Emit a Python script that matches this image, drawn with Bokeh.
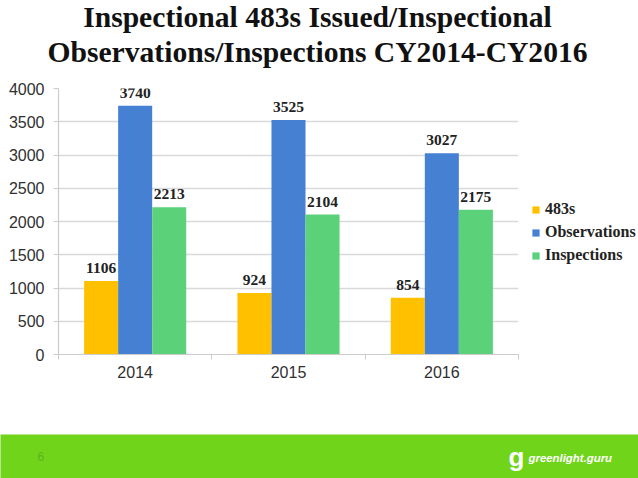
from bokeh.plotting import figure
from bokeh.embed import file_html
from bokeh.layouts import column
from bokeh.resources import INLINE
from bokeh.models import (ColumnDataSource, FixedTicker, Label, LabelSet,
                          Legend, LegendItem, Range1d)
import numpy as np

# data
years = ["2014", "2015", "2016"]
inspectional_483s = [1106, 924, 854]
observations = [3740, 3525, 3027]
inspections = [2213, 2104, 2175]
series_names = ["483s", "Observations", "Inspections"]
series_colors = ["#FFC000", "#4680D2", "#5BD27A"]
y_ticks = [0, 500, 1000, 1500, 2000, 2500, 3000, 3500, 4000]
title_lines = ["Inspectional 483s Issued/Inspectional",
               "Observations/Inspections CY2014-CY2016"]
page_number = "6"
brand = "greenlight.guru"

SERIF = "Liberation Serif"
SANS = "Liberation Sans"


# blank strip for the slide title and the footer, its whole area is the frame
def strip(height, fill):
    s = figure(width=638, height=height, output_backend="svg", toolbar_location=None,
               x_range=Range1d(0, 638), y_range=Range1d(0, height), x_axis_location=None,
               y_axis_location=None, min_border=0, frame_align=False)
    s.grid.visible = False
    s.outline_line_color = None
    s.background_fill_color = fill
    s.border_fill_color = fill
    return s


def add_text(s, text, x, y, font, size, color="#111111", style="normal", align="left"):
    s.add_layout(Label(x=x, y=s.height - y, x_units="screen", y_units="screen", text=text,
                       text_font=font, text_font_size=size, text_color=color,
                       text_font_style=style, text_align=align, text_baseline="middle"))


# title strip: 0..70 in window pixels
top = strip(70, "white")
add_text(top, title_lines[0], 317, 16, SERIF, "29.6px", style="bold", align="center")
add_text(top, title_lines[1], 317, 51, SERIF, "29.6px", style="bold", align="center")

# chart: 70..434, plot frame 58..518 / 88..354 in window pixels
p = figure(width=638, height=364, output_backend="svg", toolbar_location=None,
           frame_width=460, frame_height=266, frame_align=False,
           x_range=Range1d(0, 3), y_range=Range1d(0, 4000),
           min_border_left=58, min_border_right=120, min_border_top=18, min_border_bottom=80)
p.outline_line_color = None
p.background_fill_color = "white"
p.border_fill_color = "white"

centers = np.arange(len(years)) + 0.5
bar_w = 0.222
values = [inspectional_483s, observations, inspections]

items = []
for i, name in enumerate(series_names):
    src = ColumnDataSource(data=dict(x=centers + (i - 1) * bar_w, top=values[i],
                                     text=[str(v) for v in values[i]]))
    bars = p.vbar(x="x", top="top", width=bar_w, bottom=0, source=src,
                  color=series_colors[i], line_color=None)
    items.append(LegendItem(label=name, renderers=[bars]))
    p.add_layout(LabelSet(x="x", y="top", text="text", source=src, y_offset=8,
                          text_align="center", text_baseline="bottom",
                          text_font=SERIF, text_font_style="bold",
                          text_font_size="15.5px", text_color="#222222"))

# axes
p.xaxis.ticker = FixedTicker(ticks=list(centers), minor_ticks=list(range(len(years) + 1)))
p.xaxis.major_label_overrides = {float(c): y for c, y in zip(centers, years)}
p.xaxis.major_tick_line_color = None
p.xaxis.minor_tick_out = 5
p.xaxis.minor_tick_in = 0
p.xaxis.minor_tick_line_color = "#cccccc"
p.xaxis.major_label_standoff = 5
p.yaxis.ticker = FixedTicker(ticks=y_ticks)
p.yaxis.major_tick_out = 5
p.yaxis.major_tick_in = 0
p.yaxis.minor_tick_line_color = None
p.yaxis.major_tick_line_color = "#cccccc"
p.yaxis.major_label_standoff = 9
for ax in (p.xaxis, p.yaxis):
    ax.axis_line_color = "#cccccc"
    ax.axis_line_width = 1.2
    ax.major_label_text_font = SANS
    ax.major_label_text_font_size = "16px"
    ax.major_label_text_color = "#303030"
p.xgrid.visible = False
p.ygrid.grid_line_color = "#d9d9d9"
p.ygrid.grid_line_width = 1.5

legend = Legend(items=items, location=(13, 90), glyph_width=9, glyph_height=9,
                spacing=5, padding=0, margin=0, label_standoff=5, border_line_color=None,
                background_fill_alpha=0, label_text_font=SERIF, label_text_font_style="bold",
                label_text_font_size="16px", label_text_color="#222222", label_height=15)
p.add_layout(legend, "right")

# footer strip: 434..478 in window pixels, y is measured from its top
foot = strip(44, "#6FD41A")
add_text(foot, page_number, 37, 22, SANS, "12px", color="#5DB51F")
add_text(foot, "g", 508, 22, SANS, "26px", color="white", style="bold")
add_text(foot, brand, 528, 23, SANS, "11.4px", color="white", style="bold italic")

page = column(top, p, foot, spacing=0)
open("out.html", "w").write(file_html(page, INLINE))
